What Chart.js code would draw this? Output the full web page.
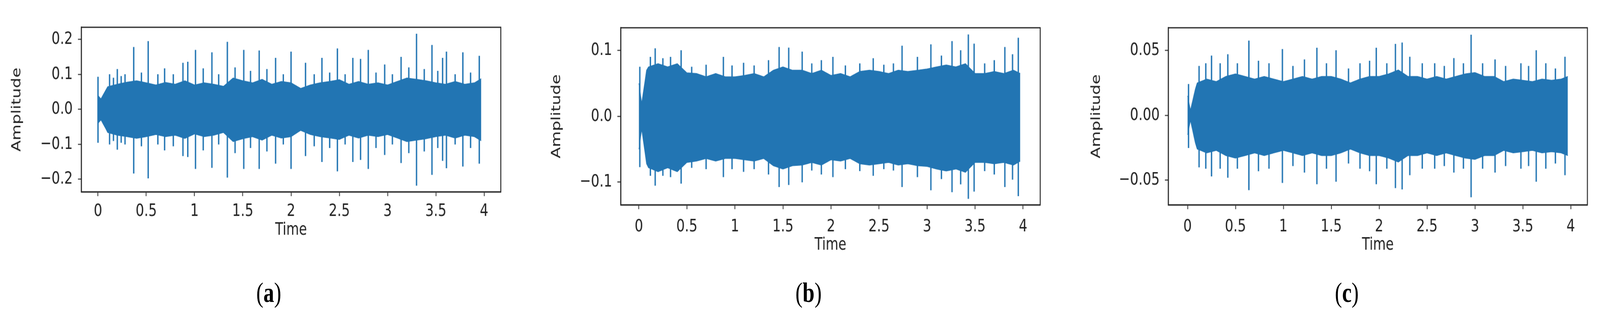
<!DOCTYPE html>
<html>
<head>
<meta charset="utf-8">
<script src="https://cdn.jsdelivr.net/npm/chart.js@4.4.0/dist/chart.umd.min.js"></script>
<style>
  body { margin: 0; background: #fff; overflow: hidden; }
  #stage { position: absolute; left: 0; top: 0; width: 4310px; height: 655px; transform-origin: 0 0; }
  canvas { position: absolute; }
  .cap { position: absolute; font-family: "Liberation Serif", serif; font-size: 58px; color: #000; transform: translate(-50%, -50%); }
</style>
</head>
<body>
<div id="stage">
  <canvas id="chartA"></canvas>
  <canvas id="chartB"></canvas>
  <canvas id="chartC"></canvas>
  <div class="cap" style="left:724px; top:607px">(<b>a</b>)</div>
  <div class="cap" style="left:2178px; top:607px">(<b>b</b>)</div>
  <div class="cap" style="left:3628px; top:607px">(<b>c</b>)</div>
</div>
<script>
// time ticks shared by all three panels
var timeTicks = [0, 0.5, 1, 1.5, 2, 2.5, 3, 3.5, 4];

// envelope of the dense part of each waveform
var envTime = [0, 0.03, 0.08, 0.1, 0.2, 0.3, 0.4, 0.5, 0.6, 0.7, 0.8, 0.9, 1.0, 1.1, 1.2, 1.3, 1.4, 1.5, 1.6, 1.7, 1.8, 1.9, 2.0,
               2.1, 2.2, 2.3, 2.4, 2.5, 2.6, 2.7, 2.8, 2.9, 3.0, 3.1, 3.2, 3.3, 3.4, 3.5, 3.6, 3.7, 3.8, 3.9, 3.97];

var upperA = [0.04, 0.03, 0.055, 0.065, 0.072, 0.078, 0.082, 0.076, 0.07, 0.077, 0.072, 0.082, 0.07, 0.076, 0.072, 0.066, 0.09, 0.082,
              0.076, 0.086, 0.072, 0.08, 0.076, 0.06, 0.07, 0.076, 0.08, 0.085, 0.072, 0.08, 0.072, 0.076, 0.07, 0.08, 0.09, 0.086,
              0.082, 0.076, 0.072, 0.08, 0.072, 0.076, 0.088];
var lowerA = [-0.04, -0.03, -0.055, -0.066, -0.074, -0.078, -0.083, -0.078, -0.072, -0.078, -0.074, -0.083, -0.07, -0.078, -0.074,
              -0.066, -0.092, -0.084, -0.078, -0.088, -0.074, -0.082, -0.078, -0.06, -0.072, -0.078, -0.082, -0.086, -0.074, -0.082,
              -0.074, -0.078, -0.072, -0.082, -0.092, -0.088, -0.084, -0.078, -0.074, -0.082, -0.074, -0.078, -0.09];

var upperB = [0.05, 0.02, 0.07, 0.075, 0.08, 0.075, 0.08, 0.066, 0.065, 0.06, 0.065, 0.06, 0.06, 0.062, 0.065, 0.06, 0.07, 0.075,
              0.07, 0.07, 0.065, 0.07, 0.062, 0.065, 0.06, 0.068, 0.07, 0.068, 0.065, 0.07, 0.068, 0.07, 0.072, 0.075, 0.078, 0.075,
              0.08, 0.065, 0.065, 0.068, 0.065, 0.07, 0.065];
var lowerB = [-0.05, -0.02, -0.072, -0.078, -0.084, -0.078, -0.084, -0.07, -0.068, -0.064, -0.068, -0.064, -0.064, -0.066, -0.068,
              -0.064, -0.075, -0.08, -0.075, -0.074, -0.07, -0.074, -0.066, -0.068, -0.064, -0.072, -0.074, -0.072, -0.07, -0.074,
              -0.072, -0.075, -0.076, -0.08, -0.083, -0.08, -0.085, -0.07, -0.07, -0.072, -0.07, -0.074, -0.068];

var upperC = [0.015, 0.004, 0.02, 0.025, 0.028, 0.026, 0.03, 0.032, 0.03, 0.028, 0.03, 0.028, 0.026, 0.028, 0.03, 0.028, 0.03, 0.03,
              0.028, 0.025, 0.028, 0.03, 0.03, 0.032, 0.035, 0.03, 0.03, 0.028, 0.03, 0.028, 0.03, 0.032, 0.033, 0.03, 0.03, 0.026,
              0.028, 0.027, 0.026, 0.028, 0.027, 0.028, 0.03];
var lowerC = [-0.015, -0.004, -0.021, -0.026, -0.029, -0.027, -0.031, -0.033, -0.031, -0.029, -0.031, -0.029, -0.027, -0.029, -0.031,
              -0.029, -0.031, -0.031, -0.029, -0.026, -0.029, -0.031, -0.031, -0.033, -0.036, -0.031, -0.031, -0.029, -0.031, -0.029,
              -0.031, -0.033, -0.034, -0.031, -0.031, -0.027, -0.029, -0.028, -0.027, -0.029, -0.028, -0.029, -0.031];

// isolated spikes: time, top, bottom
var spikeTimeA = [0.0, 0.12, 0.16, 0.2, 0.24, 0.28, 0.37, 0.45, 0.52, 0.62, 0.69, 0.78, 0.88, 0.93, 1.01, 1.09, 1.18, 1.25, 1.34, 1.42,
                  1.51, 1.58, 1.67, 1.75, 1.84, 1.92, 2.0, 2.15, 2.24, 2.32, 2.4, 2.48, 2.56, 2.64, 2.72, 2.8, 2.88, 2.97, 3.05,
                  3.14, 3.22, 3.3, 3.38, 3.46, 3.52, 3.57, 3.61, 3.7, 3.78, 3.86, 3.95];
var spikeTopA = [0.093, 0.1, 0.09, 0.115, 0.095, 0.1, 0.178, 0.105, 0.195, 0.1, 0.117, 0.1, 0.133, 0.136, 0.17, 0.117, 0.163, 0.1,
                 0.193, 0.12, 0.17, 0.11, 0.168, 0.115, 0.147, 0.1, 0.165, 0.133, 0.1, 0.147, 0.105, 0.174, 0.1, 0.147, 0.144, 0.17,
                 0.105, 0.128, 0.1, 0.15, 0.12, 0.216, 0.115, 0.184, 0.11, 0.147, 0.165, 0.1, 0.163, 0.105, 0.153];
var spikeBotA = [-0.095, -0.1, -0.09, -0.115, -0.095, -0.1, -0.183, -0.105, -0.197, -0.1, -0.117, -0.105, -0.133, -0.136, -0.17,
                 -0.117, -0.167, -0.1, -0.195, -0.125, -0.17, -0.11, -0.17, -0.12, -0.155, -0.1, -0.17, -0.133, -0.105, -0.15,
                 -0.11, -0.177, -0.1, -0.15, -0.144, -0.17, -0.11, -0.13, -0.1, -0.153, -0.125, -0.218, -0.12, -0.187, -0.11,
                 -0.147, -0.168, -0.1, -0.163, -0.11, -0.155];

var spikeTimeB = [0.01, 0.12, 0.17, 0.25, 0.33, 0.44, 0.55, 0.7, 0.88, 0.97, 1.09, 1.2, 1.35, 1.46, 1.56, 1.7, 1.8, 1.9, 2.02, 2.15,
                  2.3, 2.44, 2.55, 2.65, 2.74, 2.9, 3.04, 3.15, 3.26, 3.35, 3.43, 3.49, 3.6, 3.7, 3.81, 3.89, 3.95];
var spikeTopB = [0.075, 0.09, 0.103, 0.088, 0.09, 0.1, 0.075, 0.078, 0.09, 0.077, 0.081, 0.077, 0.085, 0.105, 0.104, 0.098, 0.08, 0.085,
                 0.09, 0.077, 0.08, 0.088, 0.078, 0.08, 0.107, 0.09, 0.109, 0.092, 0.114, 0.1, 0.124, 0.11, 0.08, 0.085, 0.105, 0.094, 0.119];
var spikeBotB = [-0.077, -0.09, -0.105, -0.09, -0.092, -0.102, -0.078, -0.08, -0.092, -0.08, -0.084, -0.08, -0.088, -0.107, -0.104,
                 -0.1, -0.082, -0.088, -0.092, -0.08, -0.083, -0.09, -0.08, -0.082, -0.107, -0.092, -0.112, -0.095, -0.115, -0.103,
                 -0.125, -0.114, -0.083, -0.088, -0.107, -0.096, -0.121];

var spikeTimeC = [0.01, 0.12, 0.19, 0.25, 0.34, 0.42, 0.52, 0.64, 0.74, 0.85, 0.99, 1.1, 1.22, 1.35, 1.45, 1.55, 1.68, 1.8, 1.9, 1.97,
                  2.08, 2.17, 2.24, 2.32, 2.45, 2.58, 2.68, 2.78, 2.88, 2.96, 3.08, 3.21, 3.32, 3.48, 3.56, 3.64, 3.74, 3.84, 3.94];
var spikeTopC = [0.024, 0.038, 0.04, 0.046, 0.04, 0.047, 0.04, 0.0575, 0.042, 0.04, 0.051, 0.038, 0.043, 0.052, 0.04, 0.05, 0.036, 0.04,
                 0.042, 0.052, 0.04, 0.055, 0.056, 0.045, 0.04, 0.04, 0.038, 0.044, 0.04, 0.062, 0.04, 0.043, 0.038, 0.04, 0.038,
                 0.05, 0.04, 0.036, 0.045];
var spikeBotC = [-0.025, -0.04, -0.041, -0.047, -0.041, -0.048, -0.041, -0.0575, -0.043, -0.041, -0.052, -0.039, -0.044, -0.053,
                 -0.041, -0.051, -0.037, -0.041, -0.043, -0.053, -0.041, -0.056, -0.057, -0.046, -0.041, -0.041, -0.039, -0.044,
                 -0.041, -0.063, -0.041, -0.044, -0.039, -0.041, -0.039, -0.051, -0.041, -0.037, -0.046];

var yTicksA = [0.2, 0.1, 0, -0.1, -0.2];
var yLabelsA = ["0.2", "0.1", "0.0", "\u22120.1", "\u22120.2"];
var yTicksB = [0.1, 0, -0.1];
var yLabelsB = ["0.1", "0.0", "\u22120.1"];
var yTicksC = [0.05, 0, -0.05];
var yLabelsC = ["0.05", "0.00", "\u22120.05"];

var blue = "#2275b3";
var font = "'DejaVu Sans', sans-serif";

var k = window.innerWidth / 4310;
document.getElementById("stage").style.transform = "scale(" + k + "," + (1.3 * k) + ")";

var frame = {
  id: "frame",
  afterDraw: function(chart) {
    var a = chart.chartArea, c = chart.ctx;
    c.save();
    c.strokeStyle = "#222";
    c.lineWidth = 2.5;
    c.strokeRect(a.left, a.top, a.right - a.left, a.bottom - a.top);
    c.restore();
  }
};

function makePanel(id, box, upper, lower, sTime, sTop, sBot, yr, yTicks, yLabels) {
  var cv = document.getElementById(id);
  cv.width = box.w; cv.height = box.h;
  cv.style.left = box.x + "px"; cv.style.top = box.y + "px";
  var band = envTime.map(function(t, i) { return { x: t, y: upper[i] }; });
  var bandLow = envTime.map(function(t, i) { return { x: t, y: lower[i] }; });
  var spikes = sTime.map(function(t, i) { return { x: t, y: [sBot[i], sTop[i]] }; });
  new Chart(cv, {
    type: "bar",
    data: {
      datasets: [
        { type: "line", data: band, borderColor: blue, backgroundColor: blue, borderWidth: 1.5, pointRadius: 0, fill: "+1", tension: 0 },
        { type: "line", data: bandLow, borderColor: blue, backgroundColor: blue, borderWidth: 1.5, pointRadius: 0, fill: false, tension: 0 },
        { type: "bar", data: spikes, backgroundColor: blue, barThickness: 3 }
      ]
    },
    plugins: [frame],
    options: {
      responsive: false, animation: false, devicePixelRatio: 1,
      layout: { padding: { top: 6, right: 6, left: 0, bottom: 0 } },
      plugins: { legend: { display: false }, tooltip: { enabled: false } },
      scales: {
        x: {
          type: "linear", min: box.xmin, max: box.xmax, offset: false,
          afterBuildTicks: function(s) { s.ticks = timeTicks.map(function(v) { return { value: v }; }); },
          afterFit: function(s) { s.height = box.xh; },
          grid: { drawOnChartArea: false, offset: false, tickLength: 9, tickColor: "#222", tickWidth: 2 },
          border: { color: "#222", width: 2.5 },
          ticks: { color: "#222", padding: box.tp, maxRotation: 0, font: { family: font, size: 36 },
                   callback: function(v) { return String(v); } },
          title: { display: true, text: "Time", color: "#222", font: { family: font, size: 35 } }
        },
        y: {
          min: yr[0], max: yr[1],
          afterBuildTicks: function(s) { s.ticks = yTicks.map(function(v) { return { value: v }; }); },
          afterFit: function(s) { s.width = box.yw; },
          grid: { drawOnChartArea: false, tickLength: 9, tickColor: "#222", tickWidth: 2 },
          border: { color: "#222", width: 2.5 },
          ticks: { color: "#222", padding: 14, font: { family: font, size: 36 },
                   callback: function(v) { return yLabels[yTicks.indexOf(v)]; } },
          title: { display: true, text: "Amplitude", color: "#222", font: { family: font, size: 34 } }
        }
      }
    }
  });
}

makePanel("chartA", { x: 22, y: 21, w: 1333, h: 482, yw: 197, xh: 105, tp: 10, xmin: -0.173, xmax: 4.173 },
  upperA, lowerA, spikeTimeA, spikeTopA, spikeBotA, [-0.236, 0.235], yTicksA, yLabelsA);
makePanel("chartB", { x: 1476, y: 22, w: 1332, h: 512, yw: 196, xh: 109, tp: 15, xmin: -0.189, xmax: 4.178 },
  upperB, lowerB, spikeTimeB, spikeTopB, spikeBotB, [-0.1344, 0.1344], yTicksB, yLabelsB);
makePanel("chartC", { x: 2930, y: 22, w: 1352, h: 512, yw: 217, xh: 109, tp: 15, xmin: -0.2016, xmax: 4.174 },
  upperC, lowerC, spikeTimeC, spikeTopC, spikeBotC, [-0.069, 0.0675], yTicksC, yLabelsC);
</script>
</body>
</html>
